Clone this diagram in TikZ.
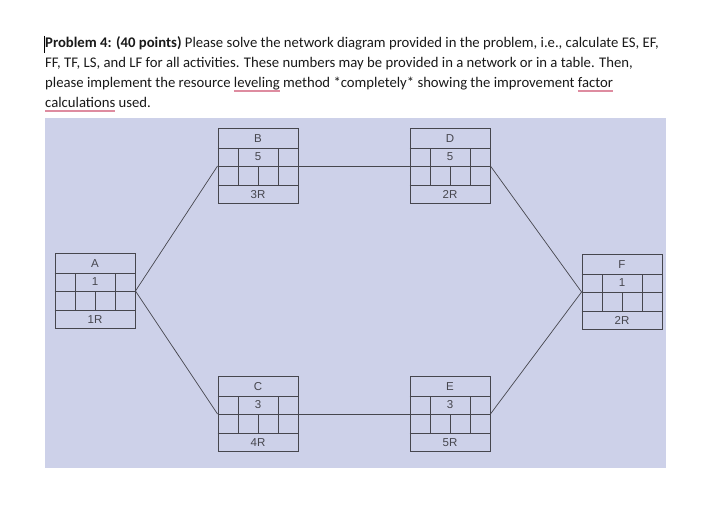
\documentclass[tikz,border=0pt]{standalone}
\usepackage{fontspec}
\setmainfont{Carlito}
\newfontfamily\boxfont{Liberation Sans}
\definecolor{panel}{RGB}{205,209,233}
\definecolor{gridgray}{RGB}{70,70,78}
\definecolor{squigred}{RGB}{222,140,160}
\newcommand\squig[1]{\setbox0\hbox{#1}\rlap{\color{squigred}\rule[-3.6pt]{\wd0}{1.3pt}}\box0\relax}
\tikzset{
    act/.style={draw=gridgray, line width=0.9pt, minimum width=80pt, minimum height=75pt, inner sep=0pt},
    link/.style={draw=gridgray, line width=0.7pt},
    txt/.style={anchor=base west, inner sep=0pt, text=black!90, font=\fontsize{14.7}{17}\selectfont},
    lbl/.style={font=\boxfont\fontsize{11.5}{13}\selectfont, text=gridgray}
}
\begin{document}
\begin{tikzpicture}[x=1pt, y=-1pt]
        \useasboundingbox[fill=white] (0,0) rectangle (704,516);
        % problem statement
        \draw[line width=1.2pt] (44.5,36) -- (44.5,53);
        \node[txt] (l1) at (45,48) {\textbf{Problem 4: (40 points)} Please solve the network diagram provided in the problem, i.e., calculate ES, EF,};
        \node[txt] (l2) at (45,68) {FF, TF, LS, and LF for all activities. These numbers may be provided in a network or in a table. Then,};
        \node[txt] (l3) at (45,88) {please implement the resource \squig{leveling} method *completely* showing the improvement \squig{factor}};
        \node[txt] (l4) at (45,108) {\squig{calculations} used.};
        \fill[panel] (45,118) rectangle (666,468);
        % activity boxes
        \foreach \id/\px/\py/\dur/\res in {
            A/95/291/1/1R,
            B/258/166/5/3R,
            C/258/414/3/4R,
            D/450/166/5/2R,
            E/450/414/3/5R,
            F/622/292/1/2R
        } {
            \node[act] (\id) at (\px,\py) {};
            \draw[gridgray, line width=0.8pt]
                ([yshift=-20pt]\id.north west) -- ([yshift=-20pt]\id.north east)
                (\id.west) -- (\id.east)
                ([yshift=18.5pt]\id.south west) -- ([yshift=18.5pt]\id.south east)
                ([xshift=21pt,yshift=-20pt]\id.north west) -- ([xshift=21pt,yshift=18.5pt]\id.south west)
                ([xshift=-20pt,yshift=-20pt]\id.north east) -- ([xshift=-20pt,yshift=18.5pt]\id.south east)
                (\id.center) -- ([yshift=18.5pt]\id.south);
            \node[lbl] at ([yshift=-10pt]\id.north) {\id};
            \node[lbl] at ([yshift=-28.5pt]\id.north) {\dur};
            \node[lbl] at ([yshift=9.5pt]\id.south) {\res};
        }
        % precedence links
        \draw[link] (A.east) -- (B.west);
        \draw[link] (A.east) -- (C.west);
        \draw[link] (B.east) -- (D.west);
        \draw[link] (C.east) -- (E.west);
        \draw[link] (D.east) -- (F.west);
        \draw[link] (E.east) -- (F.west);
    \end{tikzpicture}
\end{document}
